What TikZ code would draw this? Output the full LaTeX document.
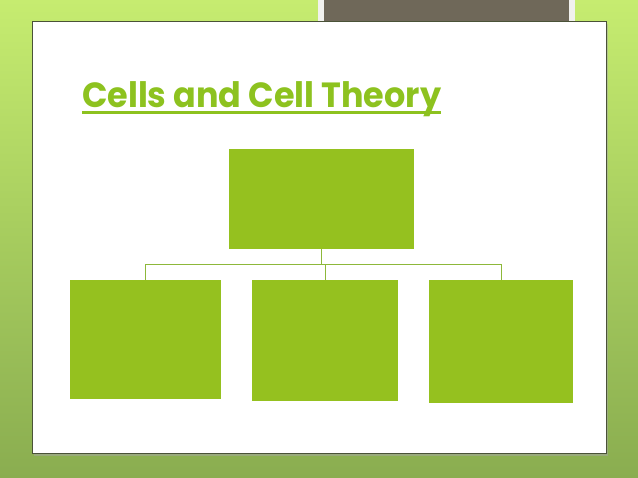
\documentclass[tikz,border=0pt]{standalone}
\usepackage{fontspec}
\setmainfont{Poppins}
\usetikzlibrary{positioning}
\definecolor{boxgreen}{HTML}{95C11F}
\definecolor{titlegreen}{HTML}{8DC21F}
\definecolor{linkgreen}{HTML}{8DB83A}
\definecolor{bgtop}{HTML}{C6EC70}
\definecolor{bgmid}{HTML}{A6CC5E}
\definecolor{bgbot}{HTML}{8AAD50}
\definecolor{panelline}{HTML}{4A5238}
\definecolor{bannerdark}{HTML}{6F6859}
\definecolor{bannerframe}{HTML}{F1F1EE}
\definecolor{bannershadow}{HTML}{A9C36A}
\tikzset{
  chartbox/.style={fill=boxgreen, draw=none, inner sep=0pt, anchor=center},
  link/.style={draw=linkgreen, line width=1pt},
}
\begin{document}
\begin{tikzpicture}[x=1pt,y=-1pt]
\useasboundingbox (0,0) rectangle (638,478);
% background
\shade[top color=bgtop, bottom color=bgbot, middle color=bgmid] (0,0) rectangle (638,478);
% banner top right
\fill[bannershadow] (318,-1) rectangle (575,48);
\fill[bannerframe] (318,-1) rectangle (575,46);
\fill[bannerdark] (324,-1) rectangle (569,42);
% white panel
\fill[black!35, opacity=0.5] (34,24) rectangle (608,456);
\filldraw[fill=white, draw=panelline, line width=1pt] (32,22) rectangle (606,454);
% title
\node[anchor=base west, inner sep=0pt, text=titlegreen, font=\fontsize{35}{40}\selectfont\bfseries] (title) at (82,108) {\scalebox{0.955}[1]{Cells and Cell Theory}};
\draw[titlegreen, line width=2.5pt] (82,112.5) -- (title.east |- 0,112.5);
% boxes
\node[chartbox, minimum width=185pt, minimum height=100pt] (top) at (321.5,199) {};
\node[chartbox, minimum width=151pt, minimum height=119pt] (b1) at (145.5,339.5) {};
\node[chartbox, minimum width=146pt, minimum height=121pt] (b2) at (325,340.5) {};
\node[chartbox, minimum width=144pt, minimum height=123pt] (b3) at (501,341.5) {};
% connectors
\coordinate (bus) at (321.5,264.5);
\draw[link] (top.south) -- (bus);
\draw[link] (b1.north) |- (bus);
\draw[link] (b3.north) |- (bus);
\draw[link] (b2.north) -- (b2.north |- bus);
\end{tikzpicture}
\end{document}
